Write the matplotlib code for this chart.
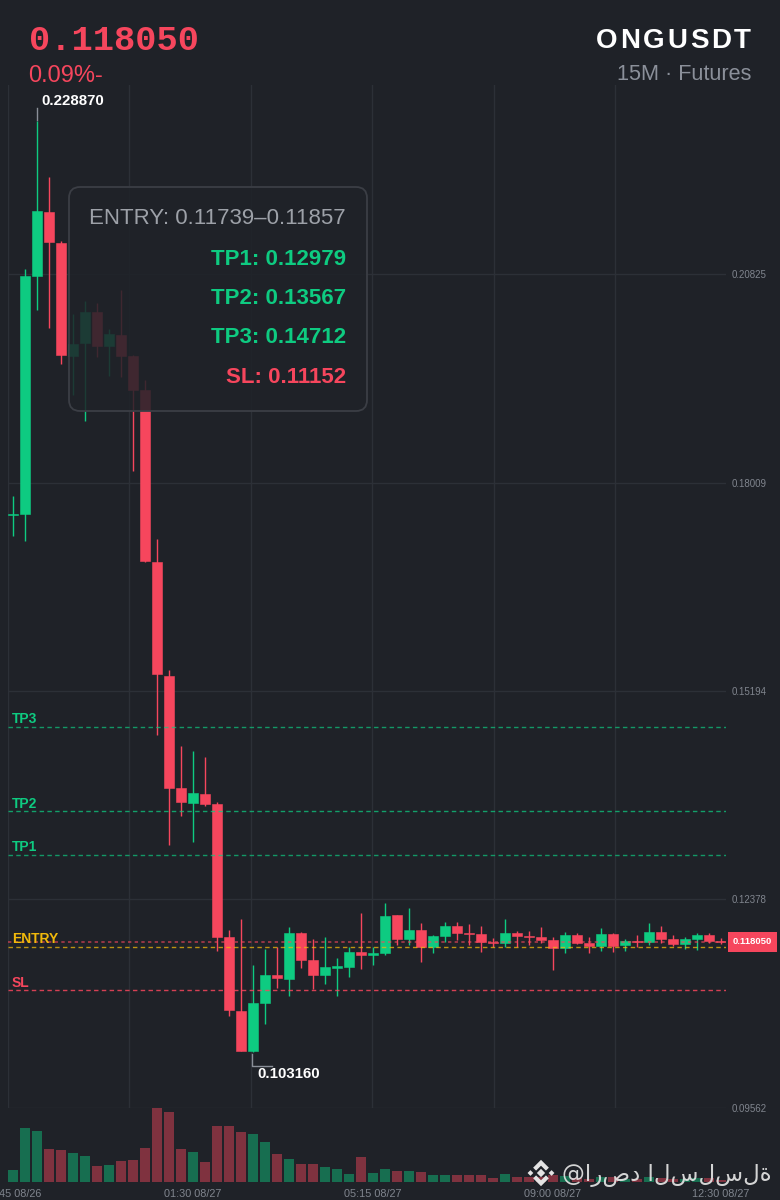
import numpy as np
import matplotlib
matplotlib.use('Agg')
import matplotlib.pyplot as plt
from matplotlib.patches import FancyBboxPatch, Polygon
from matplotlib.lines import Line2D
from matplotlib.transforms import IdentityTransform

plt.rcParams['font.family'] = ['Liberation Sans', 'DejaVu Sans']

# ---- data (15m candles, ONGUSDT) ----
opens = [0.17564, 0.17580, 0.20798, 0.21667, 0.21248, 0.19722, 0.19889, 0.20308, 0.19853, 0.20001,
         0.19718, 0.19259, 0.16940, 0.15396, 0.13880, 0.13685, 0.13803, 0.13663, 0.11871, 0.10876,
         0.10336, 0.10980, 0.11358, 0.11308, 0.11925, 0.11561, 0.11354, 0.11457, 0.11466, 0.11665,
         0.11632, 0.11659, 0.12164, 0.11848, 0.11970, 0.11732, 0.11889, 0.12024, 0.11925, 0.11912,
         0.11808, 0.11794, 0.11921, 0.11881, 0.11875, 0.11831, 0.11719, 0.11898, 0.11794, 0.11750,
         0.11912, 0.11763, 0.11817, 0.11808, 0.11935, 0.11848, 0.11777, 0.11848, 0.11898, 0.11817]
closes = [0.17577, 0.20798, 0.21680, 0.21257, 0.19731, 0.19880, 0.20308, 0.19853, 0.20011, 0.19722,
          0.19259, 0.16945, 0.15419, 0.13890, 0.13690, 0.13812, 0.13663, 0.11875, 0.10886, 0.10336,
          0.10980, 0.11358, 0.11314, 0.11925, 0.11565, 0.11362, 0.11466, 0.11466, 0.11665, 0.11632,
          0.11651, 0.12159, 0.11848, 0.11970, 0.11732, 0.11881, 0.12024, 0.11925, 0.11912, 0.11808,
          0.11786, 0.11921, 0.11885, 0.11867, 0.11831, 0.11719, 0.11898, 0.11794, 0.11750, 0.11912,
          0.11754, 0.11817, 0.11804, 0.11935, 0.11848, 0.11777, 0.11840, 0.11898, 0.11817, 0.11805]
highs = [0.17827, 0.20893, 0.22887, 0.22131, 0.21271, 0.20285, 0.20465, 0.20434, 0.20082, 0.20609,
         0.19731, 0.19394, 0.17246, 0.15477, 0.14451, 0.14383, 0.14298, 0.13695, 0.11966, 0.12110,
         0.11493, 0.11709, 0.11740, 0.12002, 0.11935, 0.11844, 0.11871, 0.11592, 0.11736, 0.12196,
         0.11740, 0.12327, 0.12168, 0.12263, 0.12056, 0.11902, 0.12070, 0.12074, 0.12051, 0.12020,
         0.11854, 0.12114, 0.11956, 0.11952, 0.12010, 0.11867, 0.11939, 0.11929, 0.11875, 0.11993,
         0.11929, 0.11844, 0.11898, 0.12065, 0.12024, 0.11898, 0.11875, 0.11921, 0.11929, 0.11854]
lows = [0.17291, 0.17223, 0.20339, 0.20100, 0.19606, 0.19191, 0.18840, 0.19704, 0.19448, 0.19434,
        0.18165, 0.16940, 0.14599, 0.13117, 0.13505, 0.13150, 0.13643, 0.11682, 0.10809, 0.10328,
        0.10316, 0.10696, 0.11179, 0.11079, 0.11457, 0.11169, 0.11237, 0.11079, 0.11331, 0.11435,
        0.11493, 0.11628, 0.11763, 0.11763, 0.11538, 0.11651, 0.11808, 0.11831, 0.11763, 0.11669,
        0.11732, 0.11732, 0.11740, 0.11763, 0.11794, 0.11426, 0.11651, 0.11777, 0.11659, 0.11686,
        0.11669, 0.11686, 0.11740, 0.11763, 0.11794, 0.11754, 0.11709, 0.11696, 0.11786, 0.11773]
volumes = [12.4, 53.7, 50.7, 33.4, 32.4, 29.0, 26.4, 15.7, 16.7, 20.7,
           22.4, 33.7, 74.0, 69.7, 33.4, 29.7, 20.4, 55.7, 55.7, 49.7,
           48.4, 40.4, 27.7, 22.7, 18.0, 18.0, 15.0, 12.7, 8.4, 25.0,
           8.7, 13.0, 10.7, 10.7, 10.0, 7.4, 7.4, 6.7, 6.7, 6.7,
           4.0, 7.7, 5.0, 5.0, 5.0, 7.0, 6.0, 4.0, 3.0, 5.0,
           5.0, 3.0, 3.0, 5.0, 4.0, 3.0, 3.0, 4.0, 4.0, 2.0]

time_idx = [0, 15, 30, 45, 59]
time_labels = ['21:45 08/26', '01:30 08/27', '05:15 08/27', '09:00 08/27', '12:30 08/27']
price_ticks = [0.09562, 0.12378, 0.15194, 0.18009, 0.20825]

level_names = ['TP3', 'TP2', 'TP1', 'ENTRY', 'SL']
level_prices = [0.14712, 0.13567, 0.12979, 0.11739, 0.11152]
entry_low, entry_high = 0.11739, 0.11857
last_price = 0.118050
change_text = '0.09%-'
symbol = 'ONGUSDT'
subtitle = '15M · Futures'
high_mark = 0.228870
low_mark = 0.103160
watermark = '@ارصد السلسلة'

# ---- style ----
BG = '#1f2228'
GRID = '#2c3037'
GREEN = '#0ecb81'
RED = '#f6465d'
YELLOW = '#f0b90b'
AXIS_TXT = '#80858e'

W, H = 780, 1200
fig = plt.figure(figsize=(W / 100, H / 100), dpi=100, facecolor=BG)


def fy(py):
    return 1 - py / H


ax = fig.add_axes([8 / W, fy(1108), 718 / W, 1023 / H])
vax = fig.add_axes([8 / W, fy(1182), 718 / W, 74 / H], sharex=ax)
for a in (ax, vax):
    a.set_facecolor(BG)
    for s in a.spines.values():
        s.set_visible(False)

n = len(opens)
idx = np.arange(n)
o = np.array(opens)
c = np.array(closes)
up = c >= o
cols = np.where(up, GREEN, RED)

xmin, xmax = -0.4167, 59.417
ax.set_xlim(xmin, xmax)
ax.set_ylim(0.09562, 0.23377)

# grid
ax.set_yticks(price_ticks)
ax.set_yticklabels(['%.5f' % p for p in price_ticks])
ax.yaxis.tick_right()
ax.tick_params(axis='y', length=0, pad=4, labelsize=7.0, labelcolor=AXIS_TXT)
ax.tick_params(axis='x', length=0, labelbottom=False)
ax.grid(axis='y', color=GRID, lw=1)
ax.set_axisbelow(True)
for k in range(0, 6):
    ax.axvline(xmin + k * 10.125, color=GRID, lw=1, zorder=0)

# candles
body_min = 0.00016
ax.vlines(idx, lows, highs, colors=cols, lw=1.0, zorder=2)
bottoms = np.minimum(o, c)
heights = np.maximum(np.abs(c - o), body_min)
ax.bar(idx, heights, bottom=bottoms, width=0.84, color=cols, edgecolor=cols, lw=0.4, zorder=3)

# level lines
level_cols = [GREEN, GREEN, GREEN, YELLOW, RED]
level_alpha = [0.7, 0.75, 0.7, 0.75, 0.85]
for name, p, col, al in zip(level_names, level_prices, level_cols, level_alpha):
    ax.axhline(p, color=col, alpha=al, lw=1.0, ls=(0, (3.2, 2.4)), zorder=4)
    ax.annotate(name, xy=(0, p), xycoords=('axes fraction', 'data'), xytext=(4, 3.5),
                textcoords='offset pixels', ha='left', va='baseline', fontsize=10,
                fontweight='bold', color=col, zorder=5)
ax.axhline(last_price, color=RED, alpha=0.65, lw=1.2, ls=(0, (2.0, 2.0)), zorder=4)

# last price tag on the axis
ax.text(1.0369, last_price, '%.6f' % last_price, transform=ax.get_yaxis_transform(),
        ha='center', va='center', fontsize=6.8, fontweight='bold', color='white',
        bbox=dict(boxstyle='square,pad=0.55', fc=RED, ec='none'), clip_on=False, zorder=6)

# volume
vax.bar(idx, volumes, width=0.84, color=cols, alpha=0.45, lw=0)
vax.set_ylim(0, max(volumes))
vax.set_yticks([])
vax.set_xticks(time_idx)
vax.set_xticklabels(time_labels)
vax.tick_params(axis='x', length=0, pad=5, labelsize=7.8, labelcolor=AXIS_TXT)

# high / low markers
fig.canvas.draw()
ih = int(np.argmax(highs))
hx, hy = ax.transData.transform((ih, high_mark))
fig.add_artist(Line2D([hx, hx], [hy + 1, hy + 13], transform=IdentityTransform(),
                      color='#8a8f98', lw=1))
fig.text((hx + 4) / W, (hy + 16) / H, '%.6f' % high_mark, ha='left', va='baseline',
         fontsize=10.8, fontweight='bold', color='white')

il = int(np.argmin(lows))
lx, ly = ax.transData.transform((il, low_mark))
fig.add_artist(Line2D([lx - 0.7, lx - 0.7, lx + 19], [ly - 2, ly - 14, ly - 14],
                      transform=IdentityTransform(), color='#8a8f98', lw=1))
fig.text((lx + 4) / W, (ly - 26.3) / H, '%.6f' % low_mark, ha='left', va='baseline',
         fontsize=10.8, fontweight='bold', color='white')

# tooltip box
box = FancyBboxPatch((69, H - 411), 298, 224, boxstyle='round,pad=0,rounding_size=11',
                     transform=IdentityTransform(), fc=matplotlib.colors.to_rgba(BG, 0.85),
                     ec='#3b3e45', lw=1.3, zorder=5)
fig.add_artist(box)
rows = ['ENTRY: %.5f–%.5f' % (entry_low, entry_high)] + \
       ['%s: %.5f' % (nm, p) for nm, p in zip(['TP1', 'TP2', 'TP3', 'SL'],
                                                [level_prices[2], level_prices[1],
                                                 level_prices[0], level_prices[4]])]
row_cols = ['#9da1a8', GREEN, GREEN, GREEN, RED]
row_base = [224, 265, 304, 342.7, 382.7]
for i, (t, col, yb) in enumerate(zip(rows, row_cols, row_base)):
    fig.text(346 / W, fy(yb), t, ha='right', va='baseline', fontsize=16,
             fontweight='normal' if i == 0 else 'bold', color=col, zorder=6)

# header
fig.text(29 / W, fy(49.5), '%.6f' % last_price, ha='left', va='baseline', fontsize=25.5,
         fontweight='bold', color=RED, family=['Liberation Mono', 'DejaVu Sans Mono'])
fig.text(28 / W, fy(82), change_text, ha='left', va='baseline', fontsize=17, color=RED)
fig.text(751 / W, fy(80), subtitle, ha='right', va='baseline', fontsize=15.6, color='#8b909a')

# symbol, slightly tracked out to the reference width
renderer = fig.canvas.get_renderer()
kw = dict(fontsize=20, fontweight='bold', color='white')
widths = []
for ch in symbol:
    t = fig.text(0, 0, ch, **kw)
    widths.append(t.get_window_extent(renderer).width)
    t.remove()
gap = max(0.0, (155 - sum(widths)) / (len(symbol) - 1))
xpos = 751 - (sum(widths) + gap * (len(symbol) - 1))
for ch, w in zip(symbol, widths):
    fig.text(xpos / W, fy(48.3), ch, ha='left', va='baseline', **kw)
    xpos += w + gap

# watermark
fig.text(772 / W, fy(1181), watermark, ha='right', va='baseline', fontsize=16.5,
         color='#e4e4e4', alpha=0.92, family=['DejaVu Sans'], zorder=7)
lcx, lcy, s = 541, H - 1173, 16


def diamond(cx, cy, r):
    return [(cx - r, cy), (cx, cy + r), (cx + r, cy), (cx, cy - r)]


for cx, cy, r in [(lcx, lcy, 0.26 * s), (lcx - 0.66 * s, lcy, 0.18 * s), (lcx + 0.66 * s, lcy, 0.18 * s)]:
    fig.add_artist(Polygon(diamond(cx, cy, r), closed=True, transform=IdentityTransform(),
                           fc='#e4e4e4', ec='none', zorder=7))
for sgn in (1, -1):
    fig.add_artist(Line2D([lcx - 0.4 * s, lcx, lcx + 0.4 * s],
                          [lcy + sgn * 0.24 * s, lcy + sgn * 0.64 * s, lcy + sgn * 0.24 * s],
                          transform=IdentityTransform(), color='#e4e4e4', lw=3.0,
                          solid_joinstyle='miter', solid_capstyle='butt', zorder=7))

fig.savefig('out.png', dpi=100, facecolor=BG)
